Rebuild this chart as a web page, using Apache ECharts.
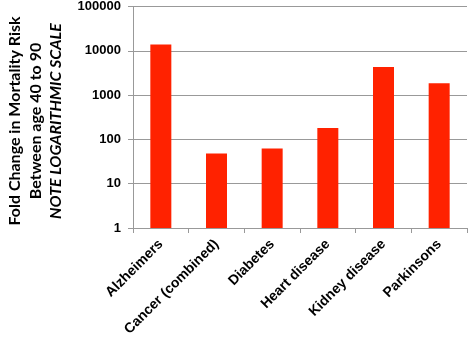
<!DOCTYPE html>
<html>
<head>
<meta charset="utf-8">
<script src="https://cdn.jsdelivr.net/npm/echarts@6/dist/echarts.min.js"></script>
<style>html,body{margin:0;padding:0;background:#fff;}#c{width:474px;height:347px;}</style>
</head>
<body>
<div id="c"></div>
<script>
var categories = ['Alzheimers', 'Cancer (combined)', 'Diabetes', 'Heart disease', 'Kidney disease', 'Parkinsons'];
var values = [13800, 48, 62, 180, 4300, 1850];
var titleLines = ['Fold Change in Mortality Risk', 'Between age 40 to 90', 'NOTE LOGARITHMIC SCALE'];

var chart = echarts.init(document.getElementById('c'));
var font = '"Liberation Sans", Arial, sans-serif';
var titleFont = 'Lato, "Liberation Sans", sans-serif';
chart.setOption({
  animation: false,
  grid: { left: 133, right: 7, top: 5, bottom: 119 },
  xAxis: {
    type: 'category',
    data: categories,
    boundaryGap: true,
    axisLine: { lineStyle: { color: '#999', width: 1 } },
    axisTick: { show: true, length: 5, lineStyle: { color: '#999' } },
    axisLabel: { rotate: 45, fontSize: 14, fontWeight: 'bold', color: '#000', fontFamily: font, margin: 14, interval: 0 }
  },
  yAxis: {
    type: 'log',
    logBase: 10,
    min: 1,
    max: 100000,
    axisLine: { show: true, lineStyle: { color: '#999', width: 1 } },
    axisTick: { show: true, length: 5, lineStyle: { color: '#999' } },
    splitLine: { lineStyle: { color: '#999', width: 1 } },
    axisLabel: { fontSize: 13, fontWeight: 'bold', color: '#000', fontFamily: font, margin: 12,
      formatter: function (v) { return String(Math.round(v)); } }
  },
  series: [{
    type: 'bar',
    data: values,
    barWidth: 21,
    itemStyle: { color: '#FF2200' }
  }],
  graphic: [
    { type: 'text', x: 15, y: 121, rotation: Math.PI / 2, style: { text: titleLines[0], font: 'bold 16px ' + titleFont, fill: '#000', align: 'center', verticalAlign: 'middle' } },
    { type: 'text', x: 36, y: 121, rotation: Math.PI / 2, style: { text: titleLines[1], font: 'bold 16px ' + titleFont, fill: '#000', align: 'center', verticalAlign: 'middle' } },
    { type: 'text', x: 56, y: 121, rotation: Math.PI / 2, style: { text: titleLines[2], font: 'italic bold 16px ' + titleFont, fill: '#000', align: 'center', verticalAlign: 'middle' } }
  ]
});
</script>
</body>
</html>
